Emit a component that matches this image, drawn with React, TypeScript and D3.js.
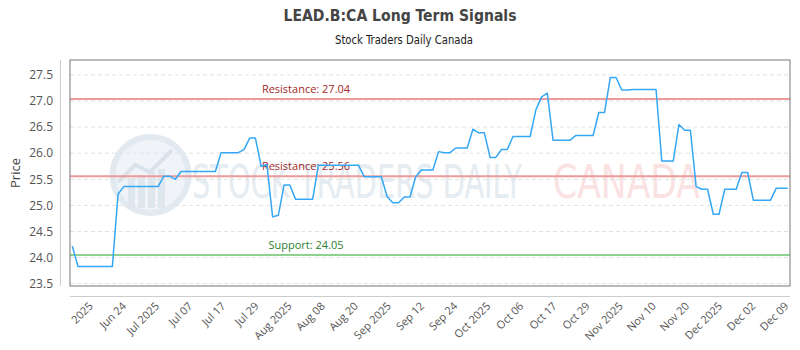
import React from 'react';
import * as d3 from 'd3';

// Daily closes, Jun 11 - Dec 09 2025
const prices = [
  24.22, 23.83, 23.83, 23.83, 23.83, 23.83, 23.83, 23.83, 25.22, 25.36,
  25.36, 25.36, 25.36, 25.36, 25.36, 25.36, 25.56, 25.56, 25.5, 25.65,
  25.65, 25.65, 25.65, 25.65, 25.65, 25.65, 26.01, 26.01, 26.01, 26.01,
  26.07, 26.29, 26.29, 25.75, 25.78, 24.78, 24.81, 25.39, 25.39, 25.12,
  25.12, 25.12, 25.12, 25.77, 25.77, 25.77, 25.77, 25.77, 25.77, 25.77,
  25.77, 25.55, 25.55, 25.55, 25.55, 25.17, 25.05, 25.05, 25.16, 25.16,
  25.55, 25.68, 25.68, 25.68, 26.03, 26.01, 26.01, 26.1, 26.1, 26.1,
  26.46, 26.39, 26.39, 25.92, 25.92, 26.07, 26.07, 26.32, 26.32, 26.32,
  26.32, 26.83, 27.08, 27.15, 26.25, 26.25, 26.25, 26.25, 26.34, 26.34,
  26.34, 26.34, 26.78, 26.78, 27.45, 27.45, 27.21, 27.21, 27.22, 27.22,
  27.22, 27.22, 27.22, 25.85, 25.85, 25.85, 26.55, 26.44, 26.44, 25.36,
  25.31, 25.31, 24.83, 24.83, 25.31, 25.31, 25.31, 25.63, 25.63, 25.1,
  25.1, 25.1, 25.1, 25.33, 25.33, 25.33,
];

const xTickLabels = [
  '2025', 'Jun 24', 'Jul 2025', 'Jul 07', 'Jul 17', 'Jul 29', 'Aug 2025',
  'Aug 08', 'Aug 20', 'Sep 2025', 'Sep 12', 'Sep 24', 'Oct 2025', 'Oct 06',
  'Oct 17', 'Oct 29', 'Nov 2025', 'Nov 10', 'Nov 20', 'Dec 2025', 'Dec 02',
  'Dec 09',
];

const yTicks = [23.5, 24, 24.5, 25, 25.5, 26, 26.5, 27, 27.5];

const levels = [
  { label: 'Resistance', value: 27.04, kind: 'resistance' },
  { label: 'Resistance', value: 25.56, kind: 'resistance' },
  { label: 'Support', value: 24.05, kind: 'support' },
];

const W = 800;
const H = 350;
const frame = { left: 70, right: 790, top: 60, bottom: 286 };
const font = "'Open Sans', 'DejaVu Sans', sans-serif";
const condensed = "'DejaVu Sans Condensed', 'DejaVu Sans', sans-serif";

export default function App() {
  const x = d3.scaleLinear().domain([0, prices.length - 1]).range([72.3, 787.7]);
  const y = d3.scaleLinear().domain([23.5, 27.5]).range([283.7, 74.9]);
  // tick labels sit on an evenly spaced grid across the data range
  const xTick = d3.scalePoint<string>().domain(xTickLabels).range([x(3.27), x(124.8)]);

  const line = d3
    .line<number>()
    .x((_, i) => x(i))
    .y((d) => y(d));

  const levelColor = (k: string) => (k === 'support' ? '#8fd18f' : '#ee9a9a');
  const labelColor = (k: string) => (k === 'support' ? '#2e7d32' : '#a52a2a');

  return (
    <svg
      width={W}
      height={H}
      style={{ position: 'absolute', left: 0, top: 0, background: '#fff' }}
      fontFamily={font}
    >
      {/* title */}
      <text x={400} y={21} textAnchor="middle" fontSize={16} fontWeight="bold" fill="#444"
        fontFamily={condensed} textLength={233} lengthAdjust="spacingAndGlyphs">
        LEAD.B:CA Long Term Signals
      </text>
      <text x={404} y={44} textAnchor="middle" fontSize={12} fill="#222"
        fontFamily={condensed} textLength={138} lengthAdjust="spacingAndGlyphs">
        Stock Traders Daily Canada
      </text>

      {/* watermark */}
      <g opacity={0.85}>
        <circle cx={150.5} cy={175} r={38} fill="#eef3f8" stroke="#dde6ee" strokeWidth={6} />
        {[128, 138, 148, 158].map((bx, i) => (
          <rect key={bx} x={bx} y={178 - i * 3} width={7} height={30 + i * 3} fill="#d9e3ec" />
        ))}
        <polyline points="118,182 135,165 150,172 172,150" fill="none" stroke="#d3dee8" strokeWidth={4} />
        <text x={192} y={198} fontSize={46} fill="#e1e9f0" fontFamily={condensed}
          textLength={330} lengthAdjust="spacingAndGlyphs">
          STOCK TRADERS DAILY
        </text>
        <text x={553} y={198} fontSize={46} fill="#fbdede" fontFamily={condensed}
          textLength={147} lengthAdjust="spacingAndGlyphs">
          CANADA
        </text>
      </g>

      {/* horizontal grid */}
      {yTicks.map((t) => (
        <line key={t} x1={frame.left} x2={frame.right} y1={y(t)} y2={y(t)}
          stroke="#e2e2e2" strokeDasharray="4,3" strokeWidth={1} />
      ))}

      {/* support / resistance */}
      {levels.map((l) => (
        <g key={l.value}>
          <line x1={frame.left} x2={frame.right} y1={y(l.value)} y2={y(l.value)}
            stroke={levelColor(l.kind)} strokeWidth={2} />
          <text x={306} y={y(l.value) - 6} textAnchor="middle" fontSize={11} fill={labelColor(l.kind)}>
            {`${l.label}: ${l.value.toFixed(2)}`}
          </text>
        </g>
      ))}

      {/* price line */}
      <path d={line(prices) ?? ''} fill="none" stroke="#35a7f5" strokeWidth={1.5} strokeLinejoin="round" />

      {/* frame */}
      <rect x={frame.left} y={frame.top} width={frame.right - frame.left} height={frame.bottom - frame.top}
        fill="none" stroke="#777" strokeWidth={1} />

      {/* y axis */}
      <line x1={60.5} x2={60.5} y1={frame.top} y2={frame.bottom} stroke="#ccc" />
      {yTicks.map((t) => (
        <text key={t} x={53} y={y(t)} dy="0.35em" textAnchor="end" fontSize={12} fill="#555">
          {t.toFixed(1)}
        </text>
      ))}
      <text transform={`translate(20,${(frame.top + frame.bottom) / 2}) rotate(-90)`} textAnchor="middle"
        fontSize={13} fill="#444">
        Price
      </text>

      {/* x axis */}
      <line x1={frame.left} x2={frame.right} y1={296.5} y2={296.5} stroke="#ccc" />
      {xTickLabels.map((lbl) => (
        <text key={lbl} transform={`translate(${xTick(lbl)},304) rotate(-45)`} textAnchor="end"
          dy="0.35em" fontSize={11} fill="#555">
          {lbl}
        </text>
      ))}
    </svg>
  );
}
